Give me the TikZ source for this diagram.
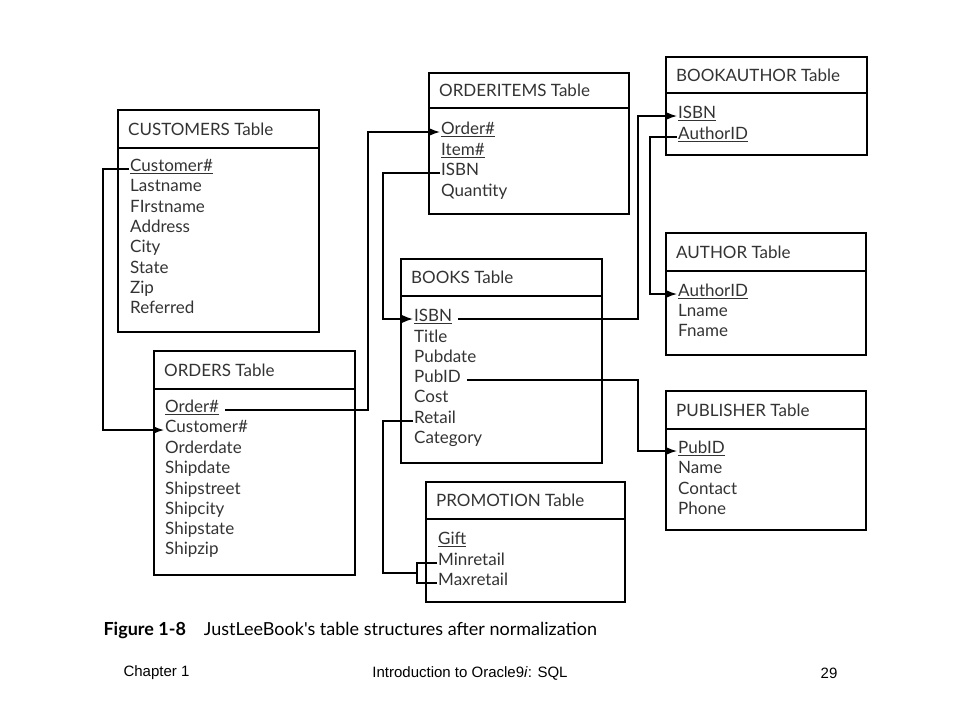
\documentclass[tikz,border=0pt]{standalone}
\usepackage{fontspec}
\setmainfont{Liberation Sans}
\newfontfamily\tabfont{Lato}
\usetikzlibrary{arrows.meta}
\newcommand{\key}[1]{\underline{#1}}
% one table: name, left, top, right, bottom, header line, title
\newcommand{\dbtable}[7]{%
  \draw[tbox] (#2,#3) rectangle (#4,#5);
  \draw[tbox] (#2,#6) -- (#4,#6);
  \node[ttl] (#1) at ({#2+10},{(#3+#6)/2}) {#7};}

\begin{document}
\begin{tikzpicture}[x=1pt,y=-1pt,
  tbox/.style={line width=1.6pt},
  ttl/.style={anchor=west,inner sep=0pt,font=\tabfont\fontsize{17}{19}\selectfont,text=black!80},
  fld/.style={anchor=west,inner sep=1pt,text height=1.55ex,text depth=.45ex,
    font=\tabfont\fontsize{17}{19}\selectfont,text=black!80},
  link/.style={line width=1.3pt},
  tip/.style={link,-{Latex[length=11pt,width=8pt]}}]

  \useasboundingbox (0,0) rectangle (960,720);

  %% tables
  \dbtable{customers}{118}{110}{319}{332}{148}{CUSTOMERS Table}
  \dbtable{orders}{154}{351}{355}{575}{389}{ORDERS Table}
  \dbtable{orderitems}{429}{73}{629}{214}{108}{ORDERITEMS Table}
  \dbtable{books}{401}{259}{602}{463}{296}{BOOKS Table}
  \dbtable{promotion}{426}{482}{625}{602}{519}{PROMOTION Table}
  \dbtable{bookauthor}{666}{57}{867}{155}{93}{BOOKAUTHOR Table}
  \dbtable{author}{666}{233}{866}{355}{271}{AUTHOR Table}
  \dbtable{publisher}{666}{391}{866}{530}{429}{PUBLISHER Table}

  %% fields
  \node[fld] (cu-id) at (129,169) {\key{Customer\#}};
  \node[fld] at (129,189) {Lastname};
  \node[fld] at (129,210) {FIrstname};
  \node[fld] at (129,230) {Address};
  \node[fld] at (129,250) {City};
  \node[fld] at (129,271) {State};
  \node[fld] at (129,291) {Zip};
  \node[fld] at (129,311) {Referred};

  \node[fld] (or-id) at (164,410) {\key{Order\#}};
  \node[fld] (or-cu) at (164,430) {Customer\#};
  \node[fld] at (164,451) {Orderdate};
  \node[fld] at (164,471) {Shipdate};
  \node[fld] at (164,492) {Shipstreet};
  \node[fld] at (164,512) {Shipcity};
  \node[fld] at (164,532) {Shipstate};
  \node[fld] at (164,552) {Shipzip};

  \node[fld] (oi-or) at (440,132) {\key{Order\#}};
  \node[fld] at (440,153) {\key{Item\#}};
  \node[fld] (oi-isbn) at (440,173) {ISBN};
  \node[fld] at (440,194) {Quantity};

  \node[fld] (bk-isbn) at (413,319) {\key{ISBN}};
  \node[fld] at (413,340) {Title};
  \node[fld] at (413,360) {Pubdate};
  \node[fld] (bk-pub) at (413,380) {PubID};
  \node[fld] at (413,400) {Cost};
  \node[fld] (bk-ret) at (413,421) {Retail};
  \node[fld] at (413,441) {Category};

  \node[fld] at (437,542) {\key{Gift}};
  \node[fld] (pr-min) at (437,563) {Minretail};
  \node[fld] (pr-max) at (437,583) {Maxretail};

  \node[fld] (ba-isbn) at (677,116) {\key{ISBN}};
  \node[fld] (ba-au) at (677,137) {\key{AuthorID}};

  \node[fld] (au-id) at (677,294) {\key{AuthorID}};
  \node[fld] at (677,314) {Lname};
  \node[fld] at (677,334) {Fname};

  \node[fld] (pu-id) at (677,451) {\key{PubID}};
  \node[fld] at (677,471) {Name};
  \node[fld] at (677,492) {Contact};
  \node[fld] at (677,512) {Phone};

  %% links
  \draw[tip] (cu-id.west) -- ++(-26,0) |- (or-cu.west);
  \draw[tip] ([xshift=5pt]or-id.east) -| (368,132) -- (oi-or.west);
  \draw[tip] (oi-isbn.west) -- (383,173) |- (bk-isbn.west);
  \draw[tip] ([xshift=5pt]bk-isbn.east) -| (638,116) -- (ba-isbn.west);
  \draw[tip] (ba-au.west) -- (650,137) |- (au-id.west);
  \draw[tip] ([xshift=5pt]bk-pub.east) -| (638,451) -- (pu-id.west);
  \coordinate (fork) at (417,573);
  \draw[link] (bk-ret.west) -- (383,421) |- (fork);
  \draw[link] (pr-min.west) -| (fork) |- (pr-max.west);

  %% caption and footer
  \node[anchor=west,font=\tabfont\fontsize{18}{20}\selectfont] (caption) at (100,630)
    {\textbf{Figure 1-8}\quad JustLeeBook's table structures after normalization};
  \node[anchor=west,font=\fontsize{15}{17}\selectfont] (chapter) at (120,673) {Chapter 1};
  \node[font=\fontsize{15}{17}\selectfont] (title) at (470,673) {Introduction to Oracle9\textit{i}: SQL};
  \node[font=\fontsize{15}{17}\selectfont] (page) at (829,673) {29};
\end{tikzpicture}
\end{document}
